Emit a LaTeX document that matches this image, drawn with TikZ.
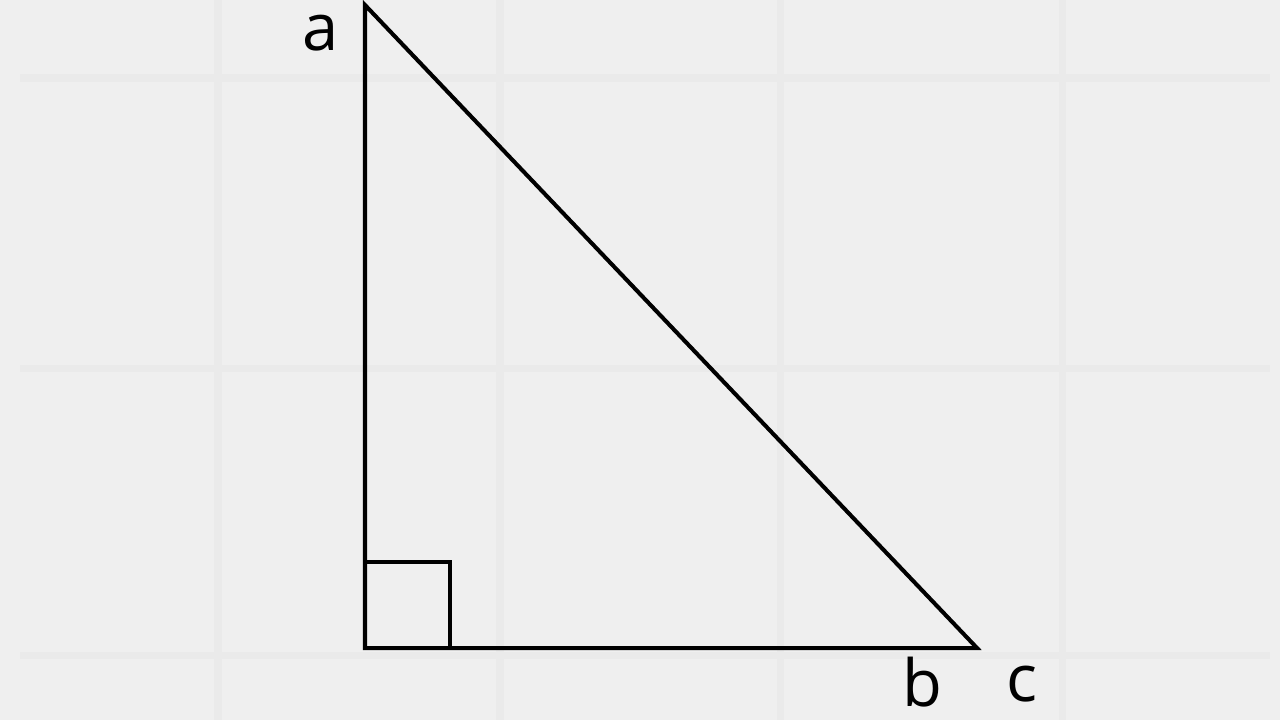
\documentclass[tikz,border=0pt]{standalone}
\usepackage{fontspec}
\setmainfont{Open Sans}
\usepackage{tikz}
\usetikzlibrary{positioning}

\definecolor{paper}{HTML}{EFEFEF}
\definecolor{gridline}{HTML}{EAEAEA}

\tikzset{
  edge/.style={line width=1.15pt, line join=miter},
  vlabel/.style={font=\fontsize{18.5}{20}\selectfont, inner sep=0pt}
}

\begin{document}
\begin{tikzpicture}[x=0.01cm, y=-0.01cm]
    \fill[paper] (0,0) rectangle (1280,720);
    \useasboundingbox (0,0) rectangle (1280,720);

    % faint squares behind
    \foreach \gx in {218,500,780,1062}
        \draw[gridline, line width=2pt] (\gx,0) -- (\gx,720);
    \foreach \gy in {78,368,655}
        \draw[gridline, line width=2pt] (20,\gy) -- (1270,\gy);

    \coordinate (A) at (365,5);
    \coordinate (R) at (365,648);
    \coordinate (C) at (977,648);

    \draw[edge] (A) -- (R) -- (C) -- cycle;
    \draw[edge] (365,562) -- (450,562) -- (450,648);

    \node[vlabel] (la) at (321,33) {a};
    \node[vlabel] (lb) at (922,682) {b};
    \node[vlabel] (lc) at (1022,684) {c};
\end{tikzpicture}
\end{document}
